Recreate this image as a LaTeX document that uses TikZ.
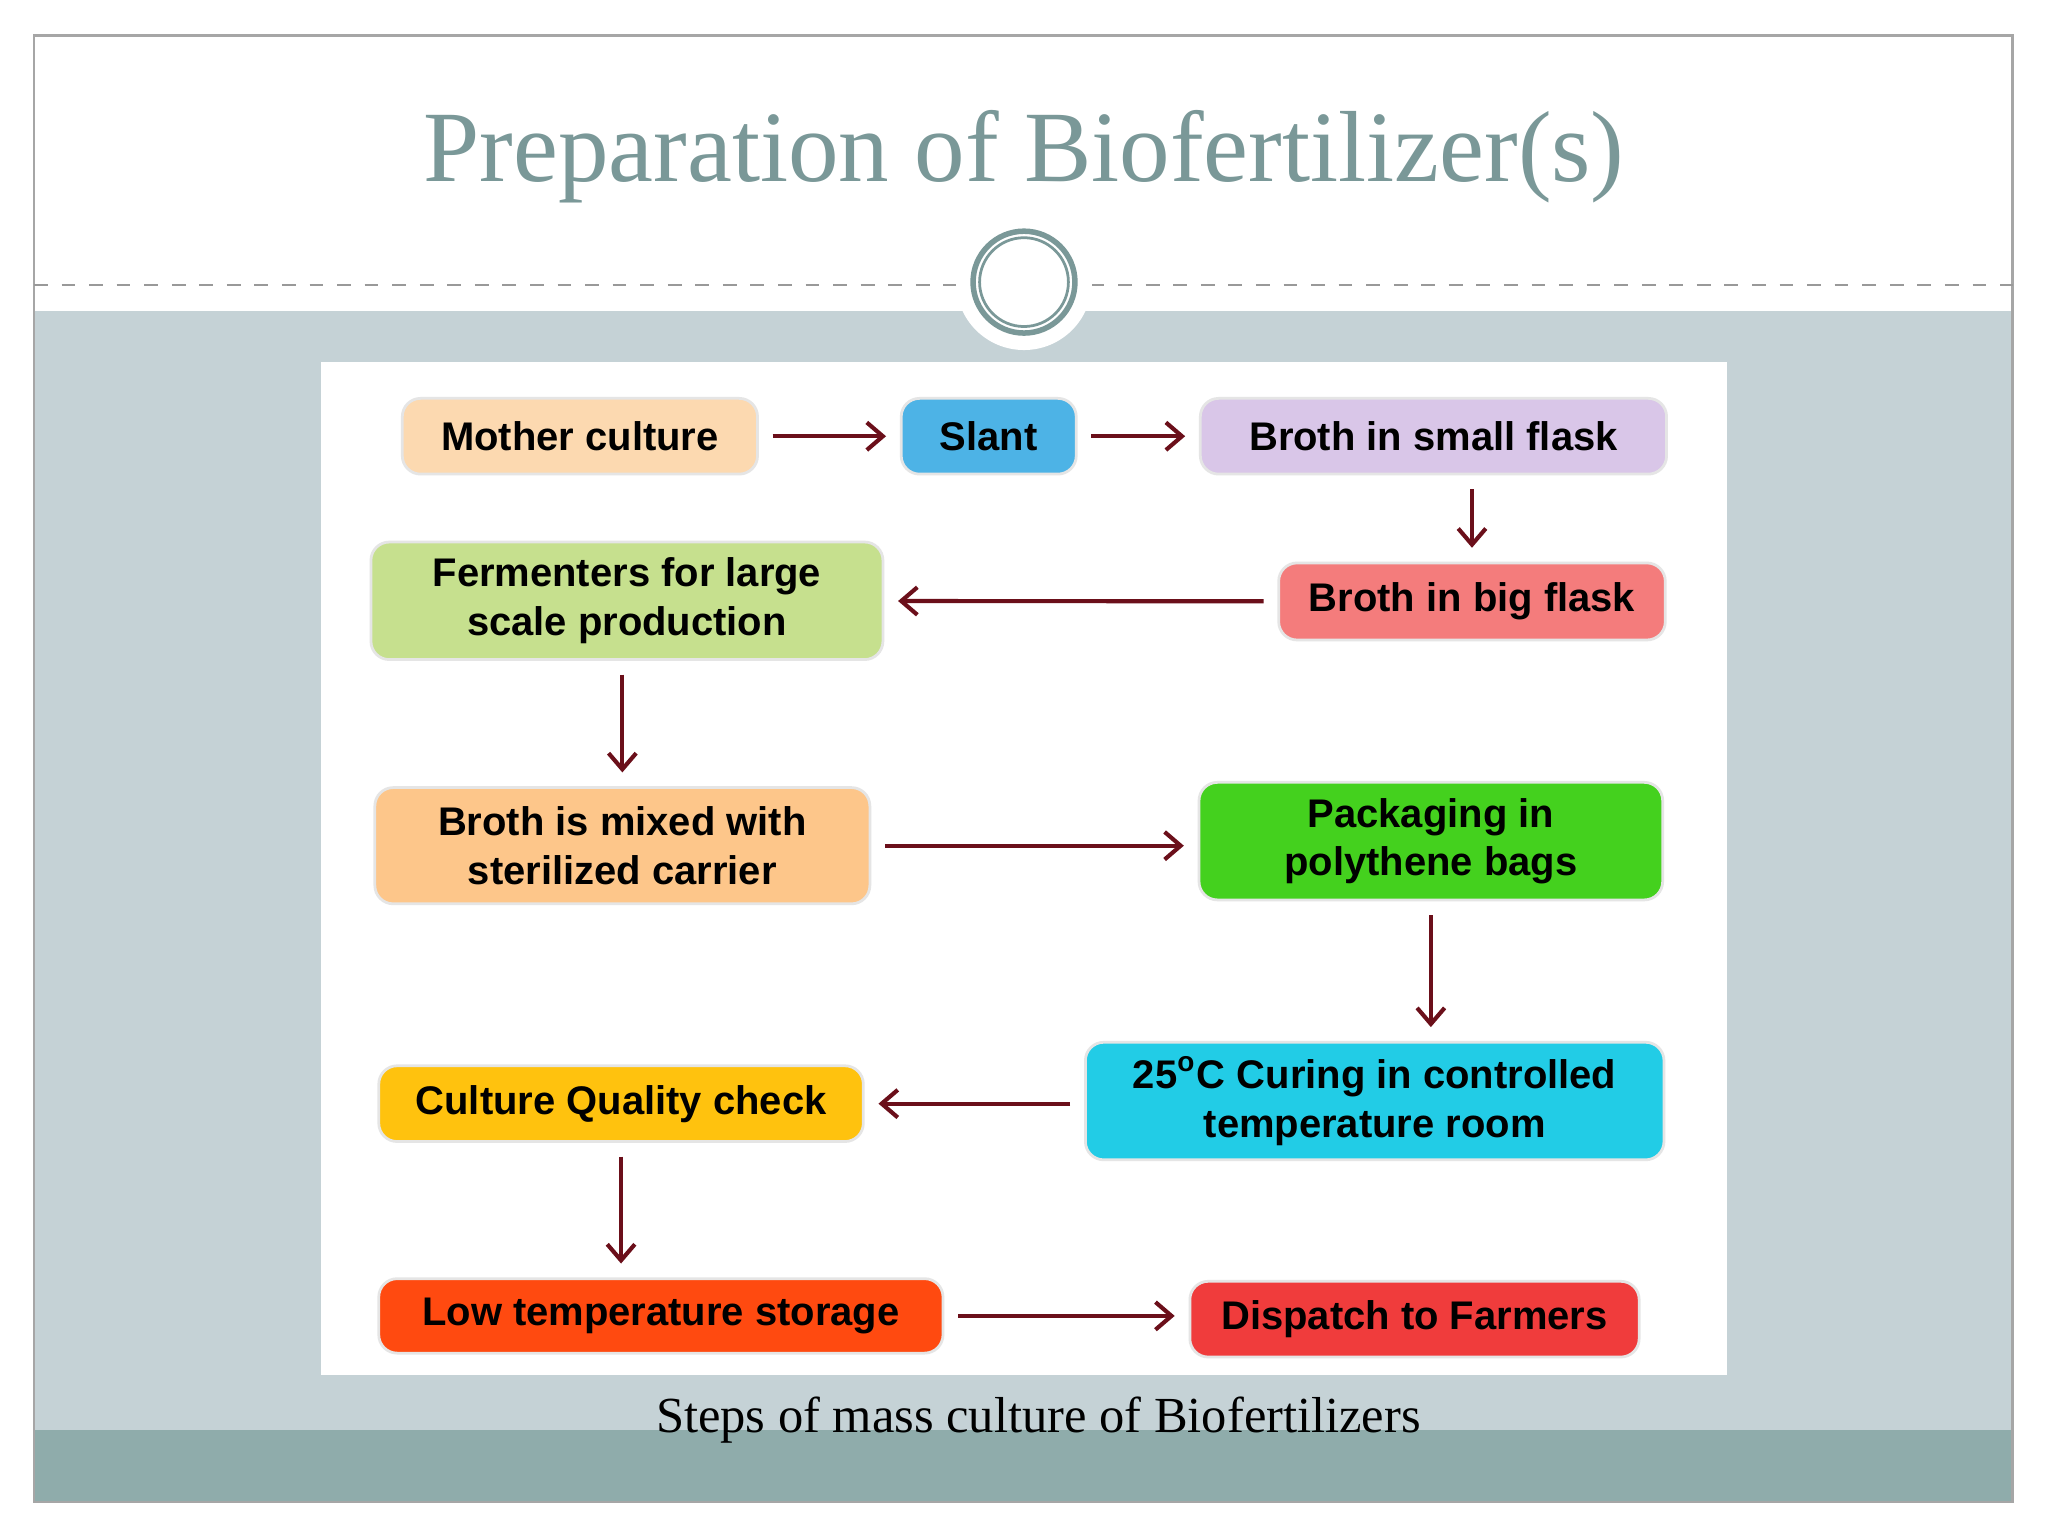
\documentclass[tikz,border=0pt]{standalone}
\usepackage{fontspec}
\setmainfont{Liberation Serif}
\newfontfamily\boxfont{Liberation Sans}
\usetikzlibrary{arrows.meta}
\definecolor{titlec}{HTML}{7A9898}
\definecolor{bgc}{HTML}{C5D2D6}
\definecolor{bandc}{HTML}{8FACAB}
\definecolor{arr}{HTML}{6B0F1A}
\definecolor{cmother}{HTML}{FCD9B0}
\definecolor{cslant}{HTML}{4DB3E6}
\definecolor{csmall}{HTML}{D9C6E8}
\definecolor{cbig}{HTML}{F47C7C}
\definecolor{cferm}{HTML}{C6E08E}
\definecolor{cmixed}{HTML}{FDC68A}
\definecolor{cpack}{HTML}{44D11E}
\definecolor{ccur}{HTML}{22CCE6}
\definecolor{cqual}{HTML}{FFC20E}
\definecolor{clow}{HTML}{FF4A10}
\definecolor{cdisp}{HTML}{F03C3C}
\tikzset{
  stepbox/.style={rounded corners=4pt, draw=black!10, line width=0.6pt, inner sep=0pt, align=center,
     font=\boxfont\bfseries\fontsize{8.7}{10.6}\selectfont, text=black},
  flow/.style={draw=arr, line width=0.9pt, -{Straight Barb[length=3.5pt,width=6pt]}, shorten >=3pt, shorten <=3pt}
}
\newcommand{\bx}[6]{\node[stepbox, fill=#2, minimum width=#3*0.01cm, minimum height=#4*0.01cm] (#1) at (#5) {#6};}
\begin{document}
\begin{tikzpicture}[x=0.01cm,y=-0.01cm]
\useasboundingbox (0,0) rectangle (1568,1176);
\fill[white] (0,0) rectangle (1568,1176);
\fill[bgc] (26,238) rectangle (1541,1095);
\fill[bandc] (26,1095) rectangle (1541,1150);
\draw[gray!70, line width=0.6pt] (26,27) rectangle (1541,1150);
\draw[gray!80, dashed, line width=0.4pt] (26,218) -- (735,218);
\draw[gray!80, dashed, line width=0.4pt] (835,218) -- (1541,218);
\fill[white] (784,216) circle (52);
\draw[titlec, line width=1.2pt] (784,216) circle (39);
\draw[titlec, line width=0.6pt] (784,216) circle (34);
\node[text=titlec, font=\fontsize{22}{26}\selectfont] (title) at (784,120) {Preparation of Biofertilizer(s)};
\fill[white] (246,277) rectangle (1322,1053);
\bx{mother}{cmother}{272}{58}{444,334}{Mother culture}
\bx{slant}{cslant}{134}{58}{757,334}{Slant}
\bx{small}{csmall}{357}{58}{1097.5,334}{Broth in small flask}
\bx{big}{cbig}{296}{59}{1127,460.5}{Broth in big flask}
\bx{ferm}{cferm}{392}{90}{480,460}{Fermenters for large\\scale production}
\bx{mixed}{cmixed}{379}{89}{476.5,647.5}{Broth is mixed with\\sterilized carrier}
\bx{pack}{cpack}{355}{90}{1095.5,644}{Packaging in\\polythene bags}
\bx{cur}{ccur}{443}{90}{1052.5,843}{25\textsuperscript{o}C Curing in controlled\\temperature room}
\bx{qual}{cqual}{371}{58}{475.5,845}{Culture Quality check}
\bx{low}{clow}{432}{57}{506,1007.5}{Low temperature storage}
\bx{disp}{cdisp}{344}{58}{1083,1010}{Dispatch to Farmers}
\draw[flow] (mother) -- (slant);
\draw[flow] (slant) -- (small);
\draw[flow] (small.south -| big.north) -- (big.north);
\draw[flow] (big) -- (ferm);
\draw[flow] (ferm.south -| mixed.north) -- (mixed.north);
\draw[flow] (mixed) -- (mixed -| pack.west);
\draw[flow] (pack.south) -- (pack.south |- cur.north);
\draw[flow] (cur.west |- qual) -- (qual);
\draw[flow] (qual.south) -- (qual.south |- low.north);
\draw[flow] (low) -- (low -| disp.west);
\node[font=\fontsize{11}{13}\selectfont] (cap) at (795,1087) {Steps of mass culture of Biofertilizers};
\end{tikzpicture}
\end{document}
